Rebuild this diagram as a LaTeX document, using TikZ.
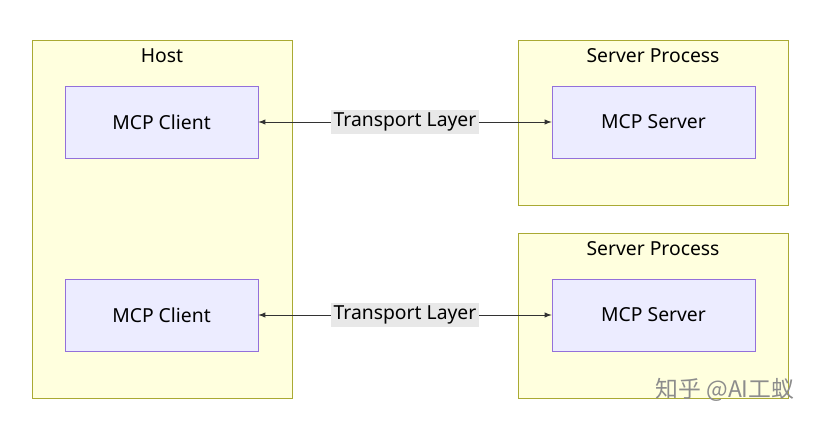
\documentclass[tikz,border=0pt]{standalone}
\usepackage{fontspec}
\setmainfont{Noto Sans}
\newfontfamily\cjk{Noto Sans CJK SC}
\usetikzlibrary{positioning}
\definecolor{boxfill}{HTML}{FFFFDE}
\definecolor{boxline}{HTML}{AAAA33}
\definecolor{nodefill}{HTML}{ECECFF}
\definecolor{nodeline}{HTML}{9370DB}
\definecolor{lblfill}{HTML}{E8E8E8}
\tikzset{
	group/.style={draw=boxline, fill=boxfill, line width=0.5pt},
	comp/.style={draw=nodeline, fill=nodefill, line width=0.4pt, minimum width=3.86cm, minimum height=1.44cm},
	link/.style={fill=lblfill, inner sep=1.5pt},
	arrow/.style={thin, ->, >=latex, draw=black!80},
}
\begin{document}
\begin{tikzpicture}[x=0.02cm, y=-0.02cm, font=\fontsize{11}{13}\selectfont]
	\useasboundingbox (0,0) rectangle (822,425);
	% groups
	\draw[group] (32,40) rectangle (292,398);
	\node at (162,56) {Host};
	\draw[group] (518,40) rectangle (788,205);
	\node at (653,56) {Server Process};
	\draw[group] (518,233) rectangle (788,398);
	\node at (653,249) {Server Process};
	% upper pair
	\node[comp] (client1) at (161.5,122) {MCP Client};
	\node[comp, minimum width=4.06cm] (server1) at (653.5,122) {MCP Server};
	\node[link] (trans1) at (405,122) {Transport Layer};
	\draw[arrow] (trans1) -- (client1);
	\draw[arrow] (trans1) -- (server1);
	% lower pair
	\node[comp] (client2) at (161.5,315) {MCP Client};
	\node[comp, minimum width=4.06cm] (server2) at (653.5,315) {MCP Server};
	\node[link] (trans2) at (405,315) {Transport Layer};
	\draw[arrow] (trans2) -- (client2);
	\draw[arrow] (trans2) -- (server2);
	% watermark
	\node[text=black!45, font=\cjk\fontsize{13}{15}\selectfont] (mark) at (725,390) {知乎 @AI工蚁};
\end{tikzpicture}
\end{document}
